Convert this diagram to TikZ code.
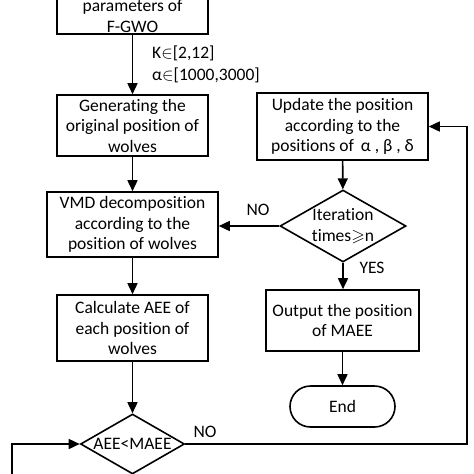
\documentclass[tikz,border=0pt]{standalone}
\usepackage{amssymb}
\usepackage{fontspec}
\setmainfont[Ligatures={NoCommon}]{Carlito}
\usetikzlibrary{arrows.meta,shapes.geometric,shapes.misc}
\begin{document}
\begin{tikzpicture}[x=1pt,y=-1pt,
  every node/.style={font=\fontsize{17.5}{20.5}\selectfont},
  box/.style={draw,line width=1.6pt,align=center,inner sep=0pt},
  dia/.style={draw,diamond,line width=1.6pt,align=center,inner sep=0pt,aspect=1.7},
  term/.style={draw,rounded rectangle,line width=1.6pt,inner sep=0pt},
  arr/.style={line width=1.6pt,-{Triangle[length=11pt,width=10pt]}},
  lbl/.style={inner sep=0pt}]
\useasboundingbox (0,0) rectangle (474,474);
% left column
\node[box,minimum width=151pt,minimum height=66pt] (init) at (132.5,1) {};
\node[lbl,align=center] (inittext) at (132.5,16) {parameters of\\F-GWO};
\node[box,minimum width=151pt,minimum height=61pt] (gen) at (132.5,125.5) {Generating the\\original position of\\wolves};
\node[box,minimum width=171pt,minimum height=65pt] (vmd) at (132.5,224.5) {VMD decomposition\\according to the\\position of wolves};
\node[box,minimum width=151pt,minimum height=66pt] (calc) at (132.5,328) {Calculate AEE of\\each position of\\wolves};
\node[dia,minimum width=104pt,minimum height=60pt] (d1) at (132.5,444) {AEE<MAEE};
% right column
\node[box,minimum width=171pt,minimum height=67pt] (upd) at (342.5,126.5) {Update the position\\according to the\\positions of \,α , β , δ};
\node[dia,minimum width=126pt,minimum height=72pt] (d2) at (343,226) {Iteration\\times$\geqslant$n};
\node[box,minimum width=153pt,minimum height=61pt] (out) at (342.5,320.5) {Output the position\\of MAEE};
\node[term,minimum width=105pt,minimum height=41pt] (end) at (342.5,406.5) {End};
% labels
\node[lbl,anchor=west] (k) at (152,53) {K$\in$[2,12]};
\node[lbl,anchor=west] (al) at (152,75) {α$\in$[1000,3000]};
\node[lbl] (no1) at (205,432) {NO};
\node[lbl] (no2) at (258,210) {NO};
\node[lbl] (yes) at (372,268) {YES};
% connectors
\coordinate (rc) at (467,444);
\coordinate (lb) at (12,490);
\draw[arr] (init.south) -- (gen.north);
\draw[arr] (gen) -- (vmd);
\draw[arr] (vmd) -- (calc);
\draw[arr] (calc) -- (d1);
\draw[arr] (upd) -- (d2);
\draw[arr] (d2.west) -- (d2.west -| vmd.east);
\draw[arr] (d2.south) -- (d2.south |- out.north);
\draw[arr] (out) -- (end);
\draw[arr] (d1.east) -- (rc) |- (upd.east);
\draw[arr] (lb) |- (d1.west);
\end{tikzpicture}
\end{document}
